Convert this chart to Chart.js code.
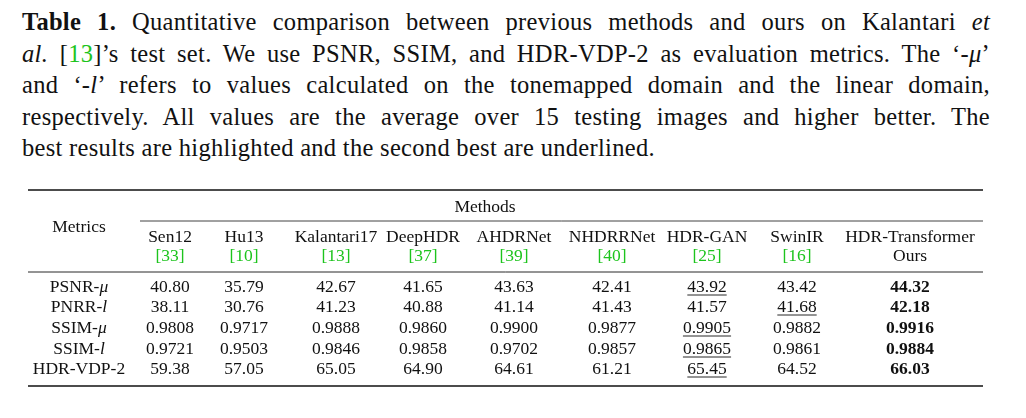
<!DOCTYPE html>
<html><head><meta charset="utf-8">
<script src="https://cdn.jsdelivr.net/npm/chart.js@4"></script>
<style>
body{margin:0;background:#fff;width:1026px;height:418px;overflow:hidden;position:relative}
#cap{position:absolute;left:22px;top:6px;width:968px;font-family:"Liberation Serif","DejaVu Serif",serif;font-size:24.5px;letter-spacing:0.3px;line-height:31.5px;color:#111}
#cap div{text-align:justify;text-align-last:justify;white-space:nowrap}
#cap div.last{text-align-last:left}
.g{color:#1dc41d}
canvas{position:absolute;left:0;top:0}
</style></head><body>
<div id="cap">
<div><b>Table 1.</b> Quantitative comparison between previous methods and ours on Kalantari <i>et</i></div>
<div><i>al.</i> [<span class="g">13</span>]’s test set. We use PSNR, SSIM, and HDR-VDP-2 as evaluation metrics. The ‘-<i>μ</i>’</div>
<div>and ‘-<i>l</i>’ refers to values calculated on the tonemapped domain and the linear domain,</div>
<div>respectively. All values are the average over 15 testing images and higher better. The</div>
<div class="last">best results are highlighted and the second best are underlined.</div>
</div>
<canvas id="c" width="1026" height="418"></canvas>
<script>
const methods = ["Sen12","Hu13","Kalantari17","DeepHDR","AHDRNet","NHDRRNet","HDR-GAN","SwinIR","HDR-Transformer"];
const refs = ["[33]","[10]","[13]","[37]","[39]","[40]","[25]","[16]","Ours"];
const metrics = ["PSNR-μ","PNRR-l","SSIM-μ","SSIM-l","HDR-VDP-2"];
const psnrMu = ["40.80","35.79","42.67","41.65","43.63","42.41","43.92","43.42","44.32"];
const psnrL  = ["38.11","30.76","41.23","40.88","41.14","41.43","41.57","41.68","42.18"];
const ssimMu = ["0.9808","0.9717","0.9888","0.9860","0.9900","0.9877","0.9905","0.9882","0.9916"];
const ssimL  = ["0.9721","0.9503","0.9846","0.9858","0.9702","0.9857","0.9865","0.9861","0.9884"];
const hdrVdp = ["59.38","57.05","65.05","64.90","64.61","61.21","65.45","64.52","66.03"];
const rows = [psnrMu, psnrL, ssimMu, ssimL, hdrVdp];

// layout (not data)
const colX = [79,170,244,336,423,514,612,707,797,910];
const rowY = {methods:207,h1:237,h2:256,data:[287,307,328,349,369]};
const rules = [[28,983,190,1.6],[140,983,221,0.8],[28,983,272,0.9],[28,983,386,1.6]];
const F = '"Liberation Serif","DejaVu Serif",serif';
const SZ = 17.5;

function best(r){const v=r.map(Number);const s=[...v].sort((a,b)=>b-a);return {b:v.indexOf(s[0]),s:v.indexOf(s[1])};}

const tablePlugin = {
  id:'table',
  afterDraw(chart){
    const {ctx, scales:{x,y}} = chart;
    ctx.save();
    ctx.fillStyle='#111';ctx.strokeStyle='#111';
    ctx.textAlign='center';ctx.textBaseline='middle';
    for(const [a,b,yy,w] of rules){ctx.lineWidth=w;ctx.beginPath();ctx.moveTo(x.getPixelForValue(a),y.getPixelForValue(yy));ctx.lineTo(x.getPixelForValue(b),y.getPixelForValue(yy));ctx.stroke();}
    const T=(s,cx,cy,font,col)=>{ctx.font=font;ctx.fillStyle=col||'#111';ctx.fillText(s,x.getPixelForValue(cx),y.getPixelForValue(cy));};
    const N=SZ+'px '+F, B='bold '+SZ+'px '+F;
    T("Methods",485,rowY.methods,N);
    T("Metrics",colX[0],227,N);
    methods.forEach((m,i)=>{
      T(m,colX[i+1],rowY.h1,N);
      T(refs[i],colX[i+1],rowY.h2,N,refs[i]==="Ours"?'#111':'#1dc41d');
    });
    metrics.forEach((m,j)=>{
      const ital = /-(μ|l)$/.test(m);
      const a = ital ? m.slice(0,-1) : m, b = ital ? m.slice(-1) : '';
      const cy=y.getPixelForValue(rowY.data[j]);
      ctx.font=N;const wa=ctx.measureText(a).width;ctx.font='italic '+N;const wb=ctx.measureText(b).width;
      let sx=x.getPixelForValue(colX[0])-(wa+wb)/2;
      ctx.textAlign='left';ctx.font=N;ctx.fillStyle='#111';ctx.fillText(a,sx,cy);
      ctx.font='italic '+N;ctx.fillText(b,sx+wa,cy);ctx.textAlign='center';
      const {b:bi,s:si}=best(rows[j]);
      rows[j].forEach((v,i)=>{
        T(v,colX[i+1],rowY.data[j],i===bi?B:N);
        if(i===si){ctx.font=N;const w=ctx.measureText(v).width;const px=x.getPixelForValue(colX[i+1]);
          ctx.lineWidth=0.9;ctx.beginPath();ctx.moveTo(px-w/2,cy+8);ctx.lineTo(px+w/2,cy+8);ctx.stroke();}
      });
    });
    ctx.restore();
  }
};

new Chart(document.getElementById('c'),{
  type:'scatter',
  data:{datasets:[{data:[],pointRadius:0}]},
  options:{responsive:false,animation:false,events:[],
    layout:{padding:0},
    plugins:{legend:{display:false},tooltip:{enabled:false}},
    scales:{x:{type:'linear',min:0,max:1026,display:false},
            y:{type:'linear',min:0,max:418,reverse:true,display:false}}},
  plugins:[tablePlugin]
});
</script>
</body></html>
